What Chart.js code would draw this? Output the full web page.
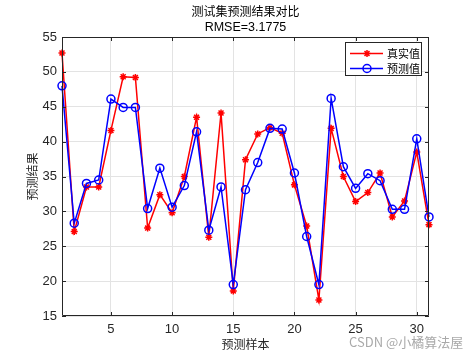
<!DOCTYPE html>
<html><head><meta charset="utf-8">
<script src="https://cdn.jsdelivr.net/npm/chart.js@4/dist/chart.umd.min.js"></script>
<style>html,body{margin:0;padding:0;background:#fff;}#wrap{position:relative;width:474px;height:355px;}</style>
</head><body><div id="wrap"><canvas id="c" width="474" height="355"></canvas></div>
<script>
const samples = [1,2,3,4,5,6,7,8,9,10,11,12,13,14,15,16,17,18,19,20,21,22,23,24,25,26,27,28,29,30,31];
const actual = [52.7,27.1,33.5,33.5,41.6,49.3,49.2,27.6,32.4,29.8,35.0,43.5,26.3,44.1,18.6,37.4,41.1,42.0,41.2,33.8,27.9,17.3,41.9,35.0,31.4,32.7,35.5,29.2,31.5,38.5,28.1];
const predicted = [48.0,28.3,34.0,34.5,46.1,44.9,44.9,30.4,36.2,30.6,33.7,41.4,27.3,33.5,19.5,33.1,37.0,41.9,41.8,35.5,26.4,19.5,46.2,36.4,33.3,35.4,34.4,30.3,30.3,40.4,29.2];
const xTicks = [5,10,15,20,25,30];
const yTicks = [15,20,25,30,35,40,45,50,55];
const titleText = '测试集预测结果对比';
const subtitleText = 'RMSE=3.1775';
const xTitle = '预测样本';
const yTitle = '预测结果';
const seriesNames = ['真实值','预测值'];
const watermark = 'CSDN @小橘算法屋';

const CJK = '"Noto Sans CJK SC", sans-serif';
const SANS = '"Liberation Sans", Arial, sans-serif';
const AX = '#262626';

const decor = {
  id: 'decor',
  afterDatasetsDraw(chart) {
    const ctx = chart.ctx, a = chart.chartArea;
    const xs = chart.scales.x, ys = chart.scales.y;
    ctx.save();
    // box
    ctx.strokeStyle = AX; ctx.lineWidth = 1;
    ctx.beginPath();
    ctx.moveTo(a.left + 0.5, a.top + 0.5); ctx.lineTo(a.right - 0.5, a.top + 0.5);
    ctx.lineTo(a.right - 0.5, a.bottom - 0.5); ctx.lineTo(a.left + 0.5, a.bottom - 0.5);
    ctx.closePath(); ctx.stroke();
    // inward ticks
    ctx.beginPath();
    xTicks.forEach(v => { const px = Math.round(xs.getPixelForValue(v)) + 0.5;
      ctx.moveTo(px, a.bottom); ctx.lineTo(px, a.bottom - 4);
      ctx.moveTo(px, a.top); ctx.lineTo(px, a.top + 4); });
    yTicks.forEach(v => { const py = Math.round(ys.getPixelForValue(v)) + 0.5;
      ctx.moveTo(a.left, py); ctx.lineTo(a.left + 4, py);
      ctx.moveTo(a.right, py); ctx.lineTo(a.right - 4, py); });
    ctx.stroke();
    // titles
    const cx = (a.left + a.right) / 2;
    ctx.fillStyle = '#000'; ctx.textAlign = 'center'; ctx.textBaseline = 'middle';
    ctx.font = '12px ' + CJK; ctx.fillText(titleText, cx, 11);
    ctx.font = '12.5px ' + SANS; ctx.fillText(subtitleText, cx, 28);
    ctx.fillStyle = AX;
    ctx.font = '12px ' + CJK; ctx.fillText(xTitle, cx, 344);
    ctx.save(); ctx.translate(32, (a.top + a.bottom) / 2); ctx.rotate(-Math.PI / 2);
    ctx.fillText(yTitle, 0, 0); ctx.restore();
    // legend
    const lx = 345, ly = 42, lw = 76, lh = 33;
    ctx.fillStyle = '#fff'; ctx.fillRect(lx, ly, lw, lh);
    ctx.strokeStyle = AX; ctx.lineWidth = 1; ctx.strokeRect(lx + 0.5, ly + 0.5, lw, lh);
    chart.data.datasets.forEach((ds, i) => {
      const y = ly + 11.5 + i * 15;
      ctx.strokeStyle = ds.borderColor; ctx.lineWidth = ds.borderWidth;
      ctx.beginPath(); ctx.moveTo(lx + 5, y); ctx.lineTo(lx + 38, y); ctx.stroke();
      ctx.fillStyle = ds.pointBackgroundColor;
      ctx.strokeStyle = ds.borderColor;
      ctx.lineWidth = ds.pointBorderWidth;
      Chart.helpers.drawPoint(ctx, {pointStyle: ds.pointStyle, radius: ds.pointRadius, rotation: 0, borderWidth: ds.pointBorderWidth}, lx + 22, y);
      ctx.fillStyle = '#000'; ctx.textAlign = 'left'; ctx.textBaseline = 'middle';
      ctx.font = '11px ' + CJK; ctx.fillText(seriesNames[i], lx + 42, y);
    });
    // watermark
    ctx.fillStyle = '#a9a9a9'; ctx.textAlign = 'left'; ctx.textBaseline = 'middle';
    ctx.font = '13px ' + CJK; ctx.fillText(watermark, 349, 342);
    ctx.restore();
  }
};

new Chart(document.getElementById('c'), {
  type: 'line',
  data: {
    datasets: [
      { label: seriesNames[0], data: samples.map((x, i) => ({x, y: actual[i]})),
        borderColor: '#ff0000', backgroundColor: '#ff0000', borderWidth: 1.5,
        pointStyle: 'star', pointRadius: 3.5, pointBorderWidth: 1.5, pointBackgroundColor: '#ff0000',
        pointBorderColor: '#ff0000', order: 2, clip: false, tension: 0 },
      { label: seriesNames[1], data: samples.map((x, i) => ({x, y: predicted[i]})),
        borderColor: '#0000ff', backgroundColor: 'rgba(0,0,0,0)', borderWidth: 1.5,
        pointStyle: 'circle', pointRadius: 4, pointBorderWidth: 1.5, pointBackgroundColor: 'rgba(0,0,0,0)',
        pointBorderColor: '#0000ff', order: 1, clip: false, tension: 0 }
    ]
  },
  options: {
    responsive: false, animation: false, devicePixelRatio: 1,
    layout: { padding: { left: 0, top: 37, right: 45, bottom: 0 }, autoPadding: false },
    plugins: { legend: { display: false }, title: { display: false }, tooltip: { enabled: false } },
    scales: {
      x: { type: 'linear', min: 1, max: 31,
        afterFit: s => { s.height = 39; },
        afterBuildTicks: s => { s.ticks = xTicks.map(v => ({value: v})); },
        grid: { color: '#e3e3e3', drawTicks: false, lineWidth: 1 },
        border: { display: false },
        ticks: { padding: 6, color: AX, font: { family: SANS, size: 13 }, maxRotation: 0, autoSkip: false } },
      y: { type: 'linear', min: 15, max: 55,
        afterFit: s => { s.width = 62; },
        afterBuildTicks: s => { s.ticks = yTicks.map(v => ({value: v})); },
        grid: { color: '#e3e3e3', drawTicks: false, lineWidth: 1 },
        border: { display: false },
        ticks: { padding: 5, color: AX, font: { family: SANS, size: 13 }, autoSkip: false } }
    }
  },
  plugins: [decor]
});
</script></body></html>
